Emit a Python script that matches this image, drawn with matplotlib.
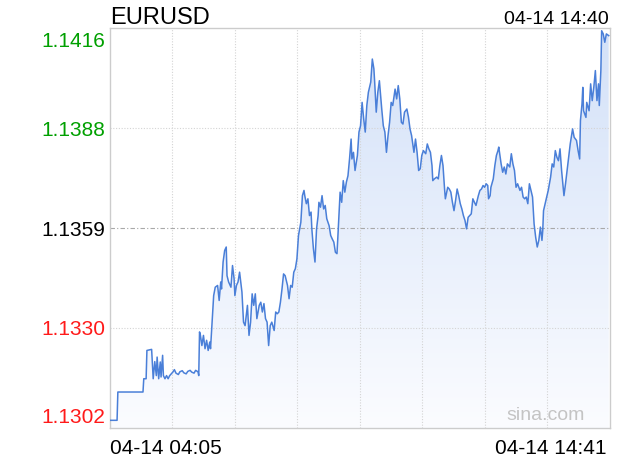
import matplotlib
matplotlib.use("Agg")
import matplotlib.pyplot as plt
import numpy as np
from matplotlib.colors import LinearSegmentedColormap

plt.rcParams['font.family'] = ['Liberation Sans', 'DejaVu Sans']

symbol = "EURUSD"
last_time_label = "04-14 14:40"
start_label = "04-14 04:05"
end_label = "04-14 14:41"
watermark = "sina.com"
total_minutes = 636
y_tick_labels = ["1.1416", "1.1388", "1.1359", "1.1330", "1.1302"]
y_tick_values = [1.14162, 1.13876, 1.13590, 1.13304, 1.13018]
prev_close = 1.13590

minutes = [0, 9, 10, 42, 43, 46, 47, 53, 55, 57, 59, 60, 62, 64, 65, 67, 68, 70, 72, 74,
           76, 78, 80, 82, 84, 87, 89, 92, 94, 97, 99, 102, 104, 107, 109, 112, 113, 114, 115, 117,
           119, 121, 123, 125, 127, 128, 130, 132, 134, 137, 139, 141, 142, 144, 146, 148, 149, 151, 154, 156,
           158, 159, 161, 163, 165, 168, 170, 172, 174, 175, 177, 179, 181, 183, 185, 187, 190, 192, 194, 196,
           198, 200, 202, 204, 206, 209, 211, 213, 215, 217, 219, 221, 223, 226, 228, 230, 232, 234, 236, 238,
           240, 243, 245, 247, 248, 250, 252, 254, 256, 257, 259, 261, 263, 265, 266, 268, 270, 272, 274, 276,
           279, 281, 283, 285, 287, 289, 290, 293, 295, 297, 299, 301, 303, 305, 307, 308, 310, 312, 315, 317,
           319, 321, 323, 325, 327, 329, 332, 334, 336, 337, 339, 341, 343, 346, 348, 350, 352, 354, 356, 358,
           360, 363, 365, 367, 369, 371, 373, 375, 378, 380, 382, 384, 387, 389, 391, 393, 395, 397, 399, 402,
           404, 406, 408, 410, 411, 413, 416, 418, 420, 422, 424, 426, 427, 430, 432, 434, 436, 438, 440, 442,
           444, 446, 448, 450, 452, 454, 456, 458, 460, 462, 464, 466, 469, 471, 473, 475, 477, 479, 481, 482,
           484, 485, 488, 490, 492, 494, 495, 498, 500, 502, 504, 506, 509, 511, 513, 515, 517, 519, 522, 524,
           526, 528, 530, 532, 534, 536, 538, 540, 542, 544, 546, 548, 550, 551, 552, 554, 556, 558, 561, 563,
           565, 567, 569, 571, 573, 575, 578, 580, 582, 584, 586, 588, 589, 591, 594, 596, 598, 599, 601, 602,
           603, 606, 607, 610, 612, 614, 616, 618, 620, 622, 623, 625, 626, 628, 630, 632, 635]

prices = [1.13040, 1.13040, 1.13121, 1.13121, 1.13159, 1.13159, 1.13240, 1.13243, 1.13159, 1.13208,
          1.13168, 1.13221, 1.13159, 1.13207, 1.13164, 1.13226, 1.13168, 1.13159, 1.13168, 1.13159,
          1.13168, 1.13173, 1.13178, 1.13185, 1.13175, 1.13171, 1.13179, 1.13182, 1.13176, 1.13173,
          1.13180, 1.13183, 1.13178, 1.13175, 1.13183, 1.13179, 1.13168, 1.13293, 1.13285, 1.13254,
          1.13283, 1.13245, 1.13269, 1.13240, 1.13264, 1.13245, 1.13321, 1.13397, 1.13421, 1.13426,
          1.13383, 1.13436, 1.13416, 1.13493, 1.13526, 1.13536, 1.13454, 1.13436, 1.13421, 1.13483,
          1.13445, 1.13397, 1.13426, 1.13436, 1.13464, 1.13407, 1.13321, 1.13311, 1.13350, 1.13369,
          1.13283, 1.13321, 1.13402, 1.13369, 1.13402, 1.13331, 1.13369, 1.13378, 1.13350, 1.13374,
          1.13331, 1.13321, 1.13254, 1.13311, 1.13321, 1.13297, 1.13350, 1.13345, 1.13350, 1.13378,
          1.13416, 1.13459, 1.13454, 1.13426, 1.13388, 1.13426, 1.13421, 1.13464, 1.13474, 1.13502,
          1.13569, 1.13607, 1.13683, 1.13698, 1.13683, 1.13660, 1.13674, 1.13626, 1.13636, 1.13588,
          1.13531, 1.13493, 1.13588, 1.13626, 1.13664, 1.13650, 1.13683, 1.13645, 1.13655, 1.13617,
          1.13597, 1.13569, 1.13559, 1.13550, 1.13521, 1.13517, 1.13559, 1.13693, 1.13664, 1.13726,
          1.13693, 1.13722, 1.13740, 1.13788, 1.13845, 1.13788, 1.13807, 1.13755, 1.13798, 1.13865,
          1.13883, 1.13950, 1.13903, 1.13865, 1.13941, 1.13979, 1.14008, 1.14074, 1.14046, 1.14008,
          1.13922, 1.13979, 1.14012, 1.13931, 1.13883, 1.13865, 1.13807, 1.13855, 1.13893, 1.13950,
          1.13941, 1.13988, 1.13960, 1.13998, 1.13960, 1.13893, 1.13888, 1.13922, 1.13931, 1.13908,
          1.13874, 1.13855, 1.13807, 1.13845, 1.13807, 1.13755, 1.13760, 1.13798, 1.13812, 1.13803,
          1.13831, 1.13817, 1.13807, 1.13769, 1.13726, 1.13731, 1.13736, 1.13731, 1.13769, 1.13798,
          1.13769, 1.13702, 1.13674, 1.13707, 1.13702, 1.13693, 1.13664, 1.13640, 1.13669, 1.13702,
          1.13683, 1.13660, 1.13645, 1.13626, 1.13612, 1.13588, 1.13621, 1.13626, 1.13631, 1.13674,
          1.13664, 1.13655, 1.13683, 1.13698, 1.13702, 1.13712, 1.13707, 1.13717, 1.13712, 1.13674,
          1.13683, 1.13707, 1.13731, 1.13769, 1.13798, 1.13812, 1.13822, 1.13774, 1.13750, 1.13765,
          1.13745, 1.13774, 1.13765, 1.13803, 1.13774, 1.13755, 1.13707, 1.13717, 1.13698, 1.13707,
          1.13679, 1.13674, 1.13679, 1.13660, 1.13717, 1.13698, 1.13679, 1.13602, 1.13564, 1.13536,
          1.13555, 1.13593, 1.13555, 1.13583, 1.13640, 1.13660, 1.13679, 1.13698, 1.13736, 1.13774,
          1.13765, 1.13812, 1.13793, 1.13783, 1.13817, 1.13755, 1.13683, 1.13717, 1.13755, 1.13793,
          1.13831, 1.13860, 1.13874, 1.13850, 1.13841, 1.13812, 1.13788, 1.13898, 1.13946, 1.13993,
          1.13926, 1.13907, 1.13950, 1.13926, 1.14003, 1.13955, 1.13993, 1.14041, 1.13955, 1.14003,
          1.13941, 1.14041, 1.14155, 1.14146, 1.14122, 1.14146, 1.14141]

W, H = 620, 460
fig = plt.figure(figsize=(W / 100, H / 100), dpi=100)
ax = fig.add_axes([110 / W, 31 / H, 499.5 / W, 399.7 / H])
ymin, ymax = y_tick_values[-1], y_tick_values[0]
ax.set_xlim(0, total_minutes)
ax.set_ylim(ymin, ymax)

# gradient fill under the line
cmap = LinearSegmentedColormap.from_list("g", ["#fbfcff", "#d3e1f8"])
grad = np.linspace(0, 1, 256).reshape(-1, 1)
im = ax.imshow(grad, cmap=cmap, aspect='auto', origin='lower',
               extent=[0, total_minutes, ymin, ymax], zorder=1)
poly = ax.fill_between(minutes, prices, ymin, color='none', lw=0)
im.set_clip_path(poly.get_paths()[0], transform=ax.transData)

# grid
for k in range(1, 8):
    ax.axvline(total_minutes * k / 8, color='#d4d4d4', lw=0.8, ls=(0, (1, 1.5)), zorder=2)
for v in y_tick_values[1:-1]:
    if v == prev_close:
        ax.axhline(v, color='#a8a8a8', lw=0.8, ls=(0, (4, 2, 1, 2)), zorder=2)
    else:
        ax.axhline(v, color='#d4d4d4', lw=0.8, ls=(0, (1, 1.5)), zorder=2)

ax.plot(minutes, prices, color='#4a7fd8', lw=1.1, zorder=3)

ax.set_xticks([])
ax.set_yticks([])
for s in ax.spines.values():
    s.set_color('#cccccc')
    s.set_linewidth(1.0)

# y labels
offsets = [-17.4, -6.7, -6.7, -6.3, 5.7]
colors = ['#00a000', '#00a000', '#000000', '#ff1a1a', '#ff1a1a']
for lab, v, off, c in zip(y_tick_labels, y_tick_values, offsets, colors):
    ax.annotate(lab, xy=(0, v), xycoords=('axes fraction', 'data'),
                xytext=(-4.5, off), textcoords='offset pixels',
                ha='right', va='baseline', fontsize=15, color=c)

fig.text(110.5 / W, 1 - 24 / H, symbol, fontsize=17, ha='left', va='baseline', color='#000000')
fig.text(608.5 / W, 1 - 24 / H, last_time_label, fontsize=14, ha='right', va='baseline', color='#000000')
fig.text(110.5 / W, 1 - 454 / H, start_label, fontsize=15, ha='left', va='baseline', color='#000000')
fig.text(606.5 / W, 1 - 454 / H, end_label, fontsize=15, ha='right', va='baseline', color='#000000')
fig.text(585 / W, 1 - 420 / H, watermark, fontsize=14, ha='right', va='baseline', color='#c4c4c4')

fig.savefig("out.png", dpi=100)
